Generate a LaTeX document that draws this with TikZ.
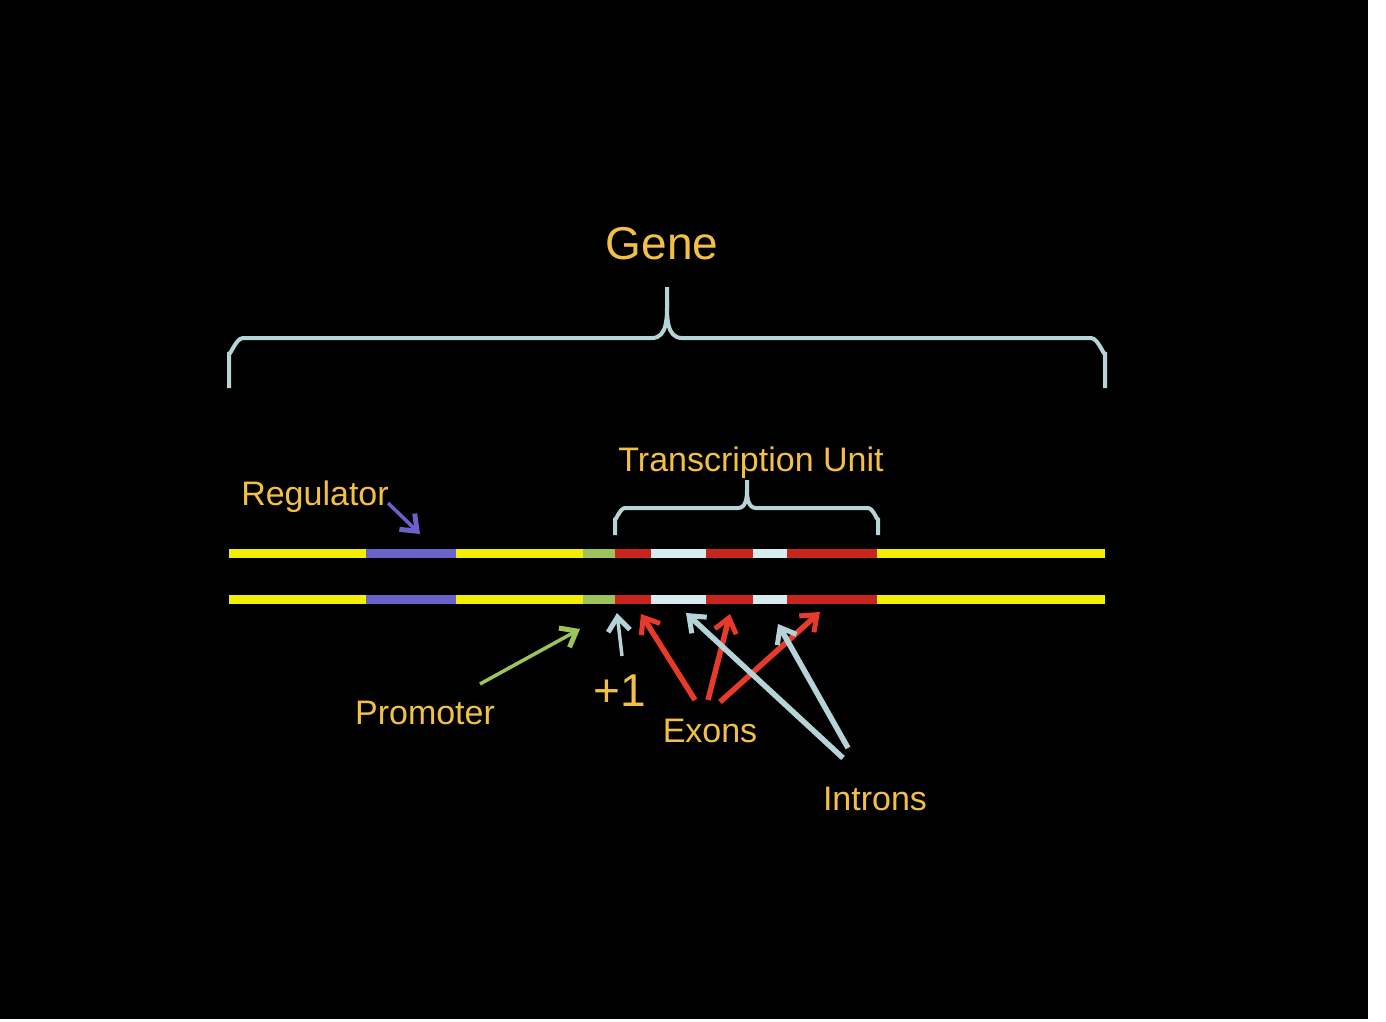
\documentclass[tikz,border=0pt]{standalone}
\usepackage{fontspec}
\setmainfont{Liberation Sans}
\usetikzlibrary{arrows.meta}
\definecolor{txt}{HTML}{F2C045}
\definecolor{ylw}{HTML}{F2F000}
\definecolor{blu}{HTML}{6A62C8}
\definecolor{grn}{HTML}{9CC45A}
\definecolor{rd}{HTML}{C8251E}
\definecolor{wh}{HTML}{D6ECEE}
\definecolor{lb}{HTML}{B6D4D8}
\definecolor{ar}{HTML}{E83A2A}
\begin{document}
\begin{tikzpicture}[x=1pt,y=-1pt,
  lbl/.style={text=txt,font=\fontsize{34}{34}\selectfont},
  big/.style={text=txt,font=\fontsize{46}{46}\selectfont},
  seg/.style={line width=9pt},
  brace/.style={draw=lb,line width=4pt},
  arr/.style={line width=5.5pt,-{Straight Barb[length=14pt,width=22pt,line width=5pt]}}]
\useasboundingbox (0,0) rectangle (1386,1022);
\fill[white] (0,0) rectangle (1386,1022);
\fill[black] (0,0) rectangle (1368,1019);
% strands
\foreach \y in {553,599}{
  \draw[seg,ylw] (229,\y) -- (366,\y);
  \draw[seg,blu] (366,\y) -- (456,\y);
  \draw[seg,ylw] (456,\y) -- (583,\y);
  \draw[seg,grn] (583,\y) -- (615,\y);
  \draw[seg,rd] (615,\y) -- (651,\y);
  \draw[seg,wh] (651,\y) -- (706,\y);
  \draw[seg,rd] (706,\y) -- (753,\y);
  \draw[seg,wh] (753,\y) -- (787,\y);
  \draw[seg,rd] (787,\y) -- (877,\y);
  \draw[seg,ylw] (877,\y) -- (1105,\y);
}
% braces
\draw[brace] (229,388) -- (229,352) to[out=-90,in=180] (243,338) -- (652,338) to[out=0,in=-90] (667,300) -- (667,287);
\draw[brace] (667,300) to[out=-90,in=180] (682,338) -- (1091,338) to[out=0,in=-90] (1105,352) -- (1105,388);
\draw[brace] (615,535) -- (615,518) to[out=-90,in=180] (625,508) -- (738,508) to[out=0,in=-90] (747,490) -- (747,480);
\draw[brace] (747,490) to[out=-90,in=180] (756,508) -- (868,508) to[out=0,in=-90] (878,518) -- (878,535);
% labels
\node[big] (gene) at (662,244) {Gene};
\node[lbl] (tu) at (751,463) {Transcription Unit};
\node[lbl] (reg) at (315,497) {Regulator};
\node[lbl] (pro) at (425,713) {Promoter};
\node[big] (p1) at (620,691) {+1};
\node[lbl] (ex) at (710,731) {Exons};
\node[lbl] (in) at (875,799) {Introns};
% arrows
\coordinate (r0) at (388,503); \coordinate (r1) at (420,534);
\draw[arr,blu,line width=3.5pt] (r0) -- (r1);
\coordinate (g0) at (480,684); \coordinate (g1) at (580,629);
\draw[arr,grn,line width=3.5pt] (g0) -- (g1);
\coordinate (o0) at (622,656); \coordinate (o1) at (617,613);
\draw[arr,lb,line width=3.5pt] (o0) -- (o1);
\coordinate (e0) at (695,700); \coordinate (e1) at (641,614);
\coordinate (e2) at (708,700); \coordinate (e3) at (730,614);
\coordinate (e4) at (720,702); \coordinate (e5) at (820,612);
\draw[arr,ar] (e0) -- (e1);
\draw[arr,ar] (e2) -- (e3);
\draw[arr,ar] (e4) -- (e5);
\coordinate (i0) at (843,758); \coordinate (i1) at (686,613);
\coordinate (i2) at (848,748); \coordinate (i3) at (778,624);
\draw[arr,lb] (i0) -- (i1);
\draw[arr,lb] (i2) -- (i3);
\end{tikzpicture}
\end{document}
